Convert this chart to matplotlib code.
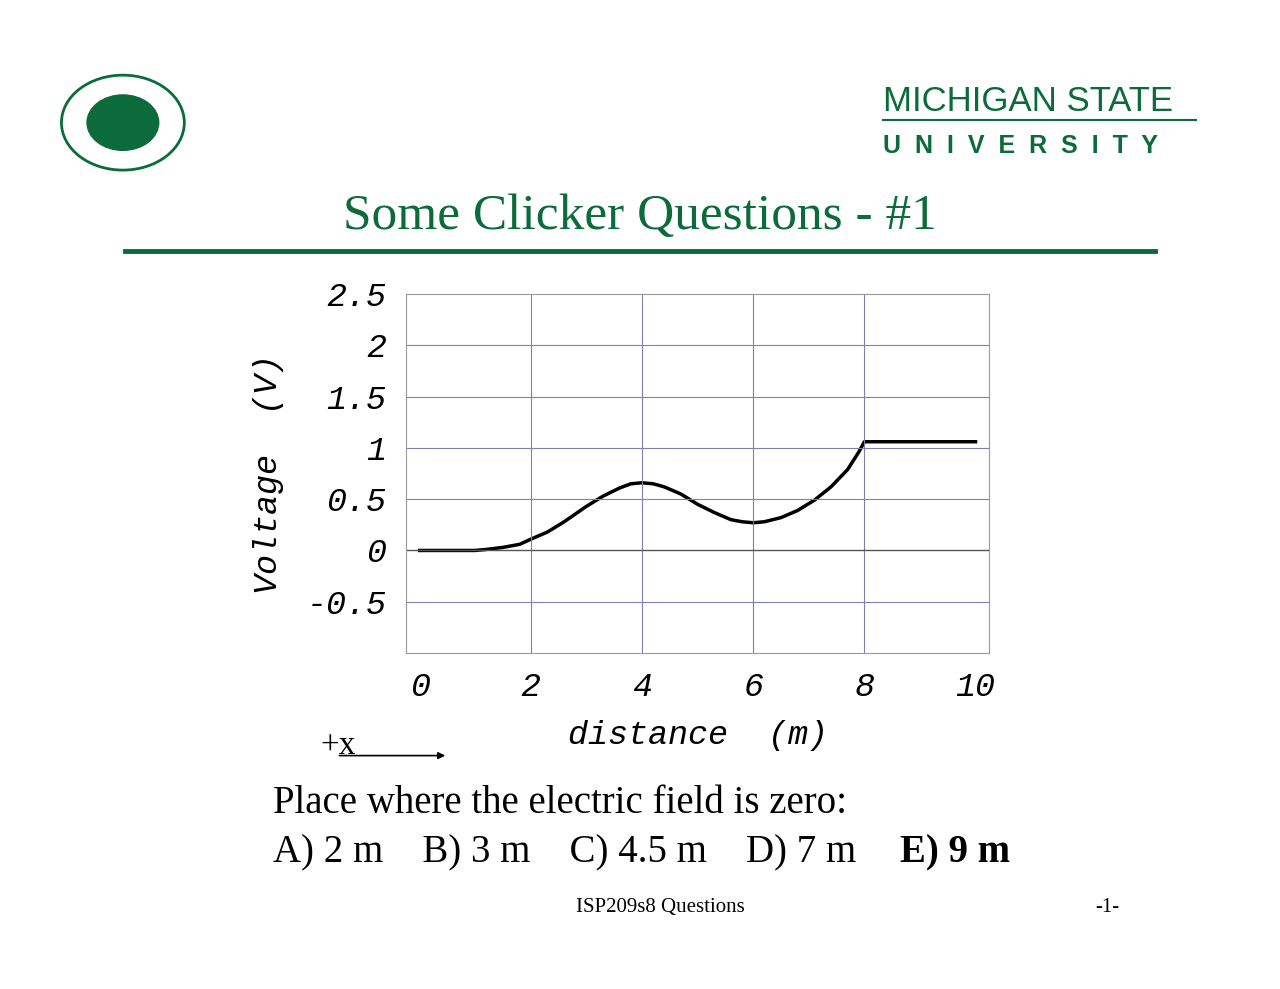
import matplotlib.pyplot as plt
from matplotlib.patches import Circle

# curve values
dist = [0, 0.5, 1.0, 1.2, 1.5, 1.8, 2.0, 2.3, 2.6, 3.0, 3.3, 3.6, 3.8, 4.0, 4.2, 4.4,
        4.7, 5.0, 5.3, 5.6, 5.8, 6.0, 6.2, 6.5, 6.8, 7.1, 7.4, 7.7, 7.9, 8.0,
        8.5, 9.0, 9.5, 10.0]
volt = [0, 0, 0, 0.01, 0.03, 0.06, 0.11, 0.18, 0.28, 0.43, 0.53, 0.61, 0.65, 0.66, 0.65, 0.62,
        0.55, 0.45, 0.37, 0.30, 0.28, 0.27, 0.28, 0.32, 0.39, 0.49, 0.62, 0.79, 0.96, 1.06,
        1.06, 1.06, 1.06, 1.06]
xticks = [0, 2, 4, 6, 8, 10]
yticks = [-0.5, 0, 0.5, 1, 1.5, 2, 2.5]
ylabels = ["-0.5", "0", "0.5", "1", "1.5", "2", "2.5"]

green = "#0b6b3a"
serif = "Liberation Serif"
mono = "Liberation Mono"

fig = plt.figure(figsize=(12.8, 9.89), dpi=100)

# header
fig.text(0.69, 0.888, "MICHIGAN STATE", color=green, fontsize=25, family="Liberation Sans")
fig.text(0.69, 0.845, "U  N  I  V  E  R  S  I  T  Y", color=green, fontsize=18,
         family="Liberation Sans", weight="bold")
fig.add_artist(plt.Line2D([0.69, 0.934], [0.879, 0.879], color=green, lw=1.5))
fig.add_artist(Circle((0.096, 0.876), 0.048, transform=fig.transFigure,
                      facecolor="white", edgecolor=green, lw=2))
fig.add_artist(Circle((0.096, 0.876), 0.028, transform=fig.transFigure, color=green))
fig.text(0.5, 0.768, "Some Clicker Questions - #1", color=green, fontsize=37,
         family=serif, ha="center")
fig.add_artist(plt.Line2D([0.098, 0.902], [0.746, 0.746], color=green, lw=3.5))

ax = fig.add_axes([0.317, 0.3397, 0.456, 0.363])
ax.plot(dist, volt, color="black", lw=2.5)
ax.set_xlim(-0.25, 10.25)
ax.set_ylim(-1, 2.5)
for x in [2, 4, 6, 8]:
    ax.axvline(x, color="#8080b0", lw=0.8)
for y in [-0.5, 0.5, 1, 1.5, 2]:
    ax.axhline(y, color="#8080b0", lw=0.8)
ax.axhline(0, color="#555555", lw=1)
for s in ax.spines.values():
    s.set_color("#999999")
    s.set_linewidth(0.8)
ax.set_xticks(xticks)
ax.set_xticklabels([str(t) for t in xticks], family=mono, style="italic", fontsize=24)
ax.set_yticks(yticks)
ax.set_yticklabels(ylabels, family=mono, style="italic", fontsize=24)
ax.tick_params(length=0, pad=14)
ax.set_xlabel("distance  (m)", family=mono, style="italic", fontsize=24, labelpad=12)
ax.set_ylabel("Voltage  (V)", family=mono, style="italic", fontsize=24, labelpad=16)

# text below the chart
fig.text(0.25, 0.238, "+x", fontsize=24, family=serif)
fig.add_artist(plt.Annotation("", xy=(0.35, 0.236), xytext=(0.263, 0.236),
                              xycoords="figure fraction",
                              arrowprops=dict(arrowstyle="-|>", color="black", lw=1.2)))
fig.text(0.213, 0.178, "Place where the electric field is zero:", fontsize=28, family=serif)
fig.text(0.213, 0.128, "A) 2 m    B) 3 m    C) 4.5 m    D) 7 m", fontsize=28, family=serif)
fig.text(0.703, 0.128, "E) 9 m", fontsize=28, family=serif, weight="bold")
fig.text(0.516, 0.078, "ISP209s8 Questions", fontsize=15, family=serif, ha="center")
fig.text(0.856, 0.078, "-1-", fontsize=15, family=serif)

fig.savefig("out.png", dpi=100)
